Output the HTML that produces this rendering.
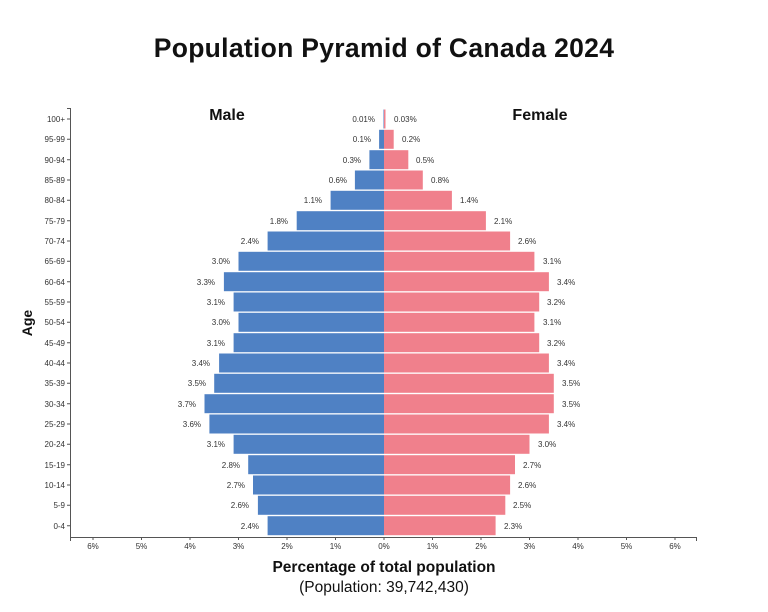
<!DOCTYPE html>
<html><head><meta charset="utf-8"><style>
html,body{margin:0;padding:0;background:#fff;}
svg{display:block;font-family:"Liberation Sans",sans-serif;}
.m{fill:#4f81c4}.f{fill:#f0808c}
.l{font-size:8px;fill:#333}
</style></head><body>
<svg width="768" height="612" viewBox="0 0 768 612">
<text x="384" y="57" text-anchor="middle" font-size="26.5" font-weight="bold" fill="#111" letter-spacing="0.3">Population Pyramid of Canada 2024</text>
<text x="227" y="120" text-anchor="middle" font-size="16" font-weight="bold" fill="#111">Male</text>
<text x="540" y="120" text-anchor="middle" font-size="16" font-weight="bold" fill="#111">Female</text>
<text x="32" y="323" text-anchor="middle" font-size="14" font-weight="bold" fill="#111" transform="rotate(-90 32 323)">Age</text>
<g>
<rect class="m" x="383.5" y="109.5" width="0.5" height="19"/><rect class="f" x="384" y="109.5" width="1.5" height="19"/>
<rect class="m" x="379.1" y="129.8" width="4.9" height="19"/><rect class="f" x="384" y="129.8" width="9.7" height="19"/>
<rect class="m" x="369.4" y="150.2" width="14.6" height="19"/><rect class="f" x="384" y="150.2" width="24.3" height="19"/>
<rect class="m" x="354.9" y="170.5" width="29.1" height="19"/><rect class="f" x="384" y="170.5" width="38.8" height="19"/>
<rect class="m" x="330.6" y="190.8" width="53.4" height="19"/><rect class="f" x="384" y="190.8" width="67.9" height="19"/>
<rect class="m" x="296.7" y="211.2" width="87.3" height="19"/><rect class="f" x="384" y="211.2" width="101.9" height="19"/>
<rect class="m" x="267.6" y="231.5" width="116.4" height="19"/><rect class="f" x="384" y="231.5" width="126.1" height="19"/>
<rect class="m" x="238.5" y="251.8" width="145.5" height="19"/><rect class="f" x="384" y="251.8" width="150.4" height="19"/>
<rect class="m" x="223.9" y="272.2" width="160.1" height="19"/><rect class="f" x="384" y="272.2" width="164.9" height="19"/>
<rect class="m" x="233.6" y="292.5" width="150.4" height="19"/><rect class="f" x="384" y="292.5" width="155.2" height="19"/>
<rect class="m" x="238.5" y="312.8" width="145.5" height="19"/><rect class="f" x="384" y="312.8" width="150.4" height="19"/>
<rect class="m" x="233.6" y="333.2" width="150.4" height="19"/><rect class="f" x="384" y="333.2" width="155.2" height="19"/>
<rect class="m" x="219.1" y="353.5" width="164.9" height="19"/><rect class="f" x="384" y="353.5" width="164.9" height="19"/>
<rect class="m" x="214.2" y="373.8" width="169.8" height="19"/><rect class="f" x="384" y="373.8" width="169.8" height="19"/>
<rect class="m" x="204.5" y="394.2" width="179.5" height="19"/><rect class="f" x="384" y="394.2" width="169.8" height="19"/>
<rect class="m" x="209.4" y="414.5" width="174.6" height="19"/><rect class="f" x="384" y="414.5" width="164.9" height="19"/>
<rect class="m" x="233.6" y="434.8" width="150.4" height="19"/><rect class="f" x="384" y="434.8" width="145.5" height="19"/>
<rect class="m" x="248.2" y="455.2" width="135.8" height="19"/><rect class="f" x="384" y="455.2" width="131" height="19"/>
<rect class="m" x="253" y="475.5" width="131" height="19"/><rect class="f" x="384" y="475.5" width="126.1" height="19"/>
<rect class="m" x="257.9" y="495.8" width="126.1" height="19"/><rect class="f" x="384" y="495.8" width="121.3" height="19"/>
<rect class="m" x="267.6" y="516.2" width="116.4" height="19"/><rect class="f" x="384" y="516.2" width="111.6" height="19"/>
</g>
<g class="l" text-anchor="end">
<text x="375" y="122">0.01%</text><text x="371" y="142">0.1%</text><text x="361" y="163">0.3%</text><text x="347" y="183">0.6%</text><text x="322" y="203">1.1%</text><text x="288" y="224">1.8%</text><text x="259" y="244">2.4%</text><text x="230" y="264">3.0%</text><text x="215" y="285">3.3%</text><text x="225" y="305">3.1%</text><text x="230" y="325">3.0%</text><text x="225" y="346">3.1%</text><text x="210" y="366">3.4%</text><text x="206" y="386">3.5%</text><text x="196" y="407">3.7%</text><text x="201" y="427">3.6%</text><text x="225" y="447">3.1%</text><text x="240" y="468">2.8%</text><text x="245" y="488">2.7%</text><text x="249" y="508">2.6%</text><text x="259" y="529">2.4%</text>
</g>
<g class="l">
<text x="394" y="122">0.03%</text><text x="402" y="142">0.2%</text><text x="416" y="163">0.5%</text><text x="431" y="183">0.8%</text><text x="460" y="203">1.4%</text><text x="494" y="224">2.1%</text><text x="518" y="244">2.6%</text><text x="543" y="264">3.1%</text><text x="557" y="285">3.4%</text><text x="547" y="305">3.2%</text><text x="543" y="325">3.1%</text><text x="547" y="346">3.2%</text><text x="557" y="366">3.4%</text><text x="562" y="386">3.5%</text><text x="562" y="407">3.5%</text><text x="557" y="427">3.4%</text><text x="538" y="447">3.0%</text><text x="523" y="468">2.7%</text><text x="518" y="488">2.6%</text><text x="513" y="508">2.5%</text><text x="504" y="529">2.3%</text>
</g>
<g class="l" text-anchor="end">
<text x="65" y="122">100+</text><text x="65" y="142">95-99</text><text x="65" y="163">90-94</text><text x="65" y="183">85-89</text><text x="65" y="203">80-84</text><text x="65" y="224">75-79</text><text x="65" y="244">70-74</text><text x="65" y="264">65-69</text><text x="65" y="285">60-64</text><text x="65" y="305">55-59</text><text x="65" y="325">50-54</text><text x="65" y="346">45-49</text><text x="65" y="366">40-44</text><text x="65" y="386">35-39</text><text x="65" y="407">30-34</text><text x="65" y="427">25-29</text><text x="65" y="447">20-24</text><text x="65" y="468">15-19</text><text x="65" y="488">10-14</text><text x="65" y="508">5-9</text><text x="65" y="529">0-4</text>
</g>
<g stroke="#555" stroke-width="1">
<line x1="70.5" y1="108" x2="70.5" y2="537"/>
<line x1="70" y1="537.5" x2="697" y2="537.5"/>
<path d="M67 119H70M67 139.3H70M67 159.7H70M67 180H70M67 200.3H70M67 220.7H70M67 241H70M67 261.3H70M67 281.7H70M67 302H70M67 322.3H70M67 342.7H70M67 363H70M67 383.3H70M67 403.7H70M67 424H70M67 444.3H70M67 464.7H70M67 485H70M67 505.3H70M67 525.7H70M67 108.5H70"/>
<path d="M70.5 537V541M93 537V540M141.5 537V540M190 537V540M238.5 537V540M287 537V540M335.5 537V540M384 537V540M432.5 537V540M481 537V540M529.5 537V540M578 537V540M626.5 537V540M675 537V540M696.5 537V541"/>
</g>
<g class="l" text-anchor="middle">
<text x="93" y="549">6%</text><text x="141.5" y="549">5%</text><text x="190" y="549">4%</text><text x="238.5" y="549">3%</text><text x="287" y="549">2%</text><text x="335.5" y="549">1%</text><text x="384" y="549">0%</text><text x="432.5" y="549">1%</text><text x="481" y="549">2%</text><text x="529.5" y="549">3%</text><text x="578" y="549">4%</text><text x="626.5" y="549">5%</text><text x="675" y="549">6%</text>
</g>
<text x="384" y="572" text-anchor="middle" font-size="15.5" font-weight="bold" fill="#111">Percentage of total population</text>
<text x="384" y="592" text-anchor="middle" font-size="15.5" fill="#111">(Population: 39,742,430)</text>
</svg>
</body></html>
